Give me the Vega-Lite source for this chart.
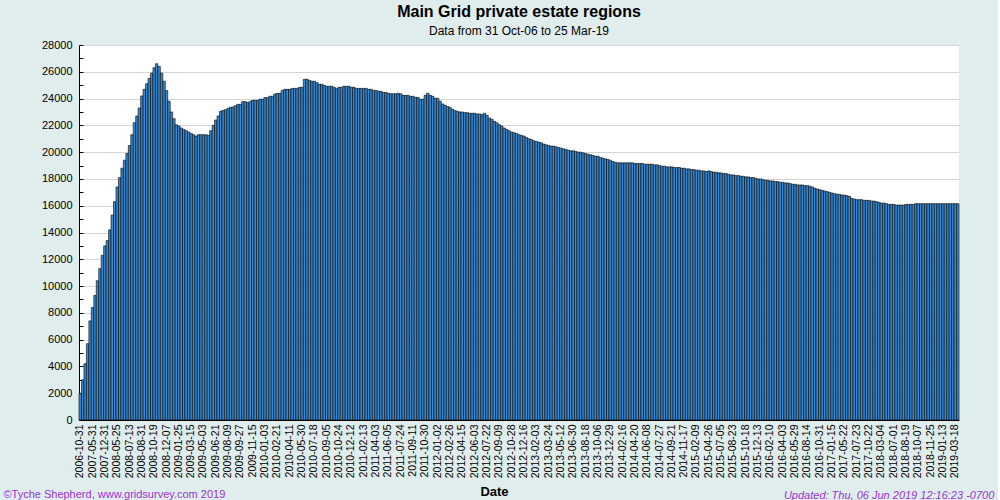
{
"$schema": "https://vega.github.io/schema/vega-lite/v6.json",
"background": "#e0eded",
"padding": {"top": 4, "left": 3, "right": 3, "bottom": 0},
"config": {"font": "Liberation Sans", "view": {"fill": "#ffffff", "stroke": null}},
"title": {"text": "Updated: Thu, 06 Jun 2019 12:16:23 -0700", "orient": "bottom", "anchor": "end", "fontStyle": "italic", "fontWeight": "normal", "fontSize": 11, "font": "Liberation Sans", "color": "#9933cc", "offset": -10, "dx": 34},
"datasets": {"grid": [
{"d":"2006-10-31","v":2000},{"d":"2006-11-30","v":3000},{"d":"2006-12-31","v":4200},{"d":"2007-01-31","v":5700},{"d":"2007-03-31","v":7400},
{"d":"2007-05-31","v":8400},{"d":"2007-06-30","v":9300},{"d":"2007-07-31","v":10400},{"d":"2007-09-30","v":11300},{"d":"2007-10-31","v":12300},
{"d":"2007-12-31","v":13000},{"d":"2008-01-31","v":13400},{"d":"2008-02-29","v":14200},{"d":"2008-03-31","v":15300},{"d":"2008-04-30","v":16300},
{"d":"2008-05-25","v":17400},{"d":"2008-06-01","v":18100},{"d":"2008-06-08","v":18800},{"d":"2008-06-15","v":19400},{"d":"2008-06-22","v":19900},
{"d":"2008-07-13","v":20500},{"d":"2008-07-20","v":21300},{"d":"2008-07-27","v":22200},{"d":"2008-08-03","v":22700},{"d":"2008-08-10","v":23300},
{"d":"2008-08-31","v":24200},{"d":"2008-09-07","v":24690},{"d":"2008-09-14","v":25100},{"d":"2008-09-21","v":25500},{"d":"2008-09-28","v":25900},
{"d":"2008-10-19","v":26300},{"d":"2008-10-26","v":26600},{"d":"2008-11-02","v":26400},{"d":"2008-11-09","v":25900},{"d":"2008-11-16","v":25300},
{"d":"2008-12-07","v":24600},{"d":"2008-12-14","v":23800},{"d":"2008-12-21","v":23000},{"d":"2008-12-28","v":22500},{"d":"2009-01-04","v":22050},
{"d":"2009-01-25","v":21950},{"d":"2009-02-01","v":21800},{"d":"2009-02-08","v":21700},{"d":"2009-02-15","v":21600},{"d":"2009-02-22","v":21500},
{"d":"2009-03-15","v":21400},{"d":"2009-03-22","v":21300},{"d":"2009-03-29","v":21200},{"d":"2009-04-05","v":21300},{"d":"2009-04-12","v":21300},
{"d":"2009-05-03","v":21300},{"d":"2009-05-10","v":21300},{"d":"2009-05-17","v":21250},{"d":"2009-05-24","v":21600},{"d":"2009-05-31","v":22000},
{"d":"2009-06-21","v":22400},{"d":"2009-06-28","v":22700},{"d":"2009-07-05","v":23050},{"d":"2009-07-12","v":23120},{"d":"2009-07-19","v":23170},
{"d":"2009-08-09","v":23270},{"d":"2009-08-16","v":23350},{"d":"2009-08-23","v":23370},{"d":"2009-08-30","v":23470},{"d":"2009-09-06","v":23570},
{"d":"2009-09-27","v":23570},{"d":"2009-10-04","v":23770},{"d":"2009-10-11","v":23770},{"d":"2009-10-18","v":23700},{"d":"2009-10-25","v":23790},
{"d":"2009-11-15","v":23870},{"d":"2009-11-22","v":23870},{"d":"2009-11-29","v":23870},{"d":"2009-12-06","v":23950},{"d":"2009-12-13","v":23950},
{"d":"2010-01-03","v":24070},{"d":"2010-01-10","v":24070},{"d":"2010-01-17","v":24170},{"d":"2010-01-24","v":24170},{"d":"2010-01-31","v":24340},
{"d":"2010-02-21","v":24390},{"d":"2010-02-28","v":24390},{"d":"2010-03-07","v":24610},{"d":"2010-03-14","v":24690},{"d":"2010-03-21","v":24690},
{"d":"2010-04-11","v":24690},{"d":"2010-04-18","v":24760},{"d":"2010-04-25","v":24760},{"d":"2010-05-02","v":24760},{"d":"2010-05-09","v":24840},
{"d":"2010-05-30","v":24840},{"d":"2010-06-06","v":25440},{"d":"2010-06-13","v":25440},{"d":"2010-06-20","v":25360},{"d":"2010-06-27","v":25290},
{"d":"2010-07-18","v":25290},{"d":"2010-07-25","v":25190},{"d":"2010-08-01","v":25070},{"d":"2010-08-08","v":25070},{"d":"2010-08-15","v":24990},
{"d":"2010-09-05","v":24920},{"d":"2010-09-12","v":24920},{"d":"2010-09-19","v":24920},{"d":"2010-09-26","v":24840},{"d":"2010-10-03","v":24760},
{"d":"2010-10-24","v":24840},{"d":"2010-10-31","v":24840},{"d":"2010-11-07","v":24920},{"d":"2010-11-14","v":24920},{"d":"2010-11-21","v":24920},
{"d":"2010-12-12","v":24840},{"d":"2010-12-19","v":24840},{"d":"2010-12-26","v":24760},{"d":"2011-01-02","v":24760},{"d":"2011-01-09","v":24760},
{"d":"2011-02-13","v":24760},{"d":"2011-02-20","v":24760},{"d":"2011-02-27","v":24690},{"d":"2011-03-06","v":24690},{"d":"2011-03-13","v":24610},
{"d":"2011-04-03","v":24610},{"d":"2011-04-10","v":24540},{"d":"2011-04-17","v":24540},{"d":"2011-04-24","v":24460},{"d":"2011-05-01","v":24460},
{"d":"2011-06-05","v":24390},{"d":"2011-06-12","v":24360},{"d":"2011-06-19","v":24360},{"d":"2011-06-26","v":24360},{"d":"2011-07-03","v":24390},
{"d":"2011-07-24","v":24360},{"d":"2011-07-31","v":24240},{"d":"2011-08-07","v":24240},{"d":"2011-08-14","v":24240},{"d":"2011-08-21","v":24170},
{"d":"2011-09-11","v":24170},{"d":"2011-09-18","v":24090},{"d":"2011-09-25","v":24090},{"d":"2011-10-02","v":23950},{"d":"2011-10-09","v":23950},
{"d":"2011-10-30","v":24240},{"d":"2011-11-06","v":24390},{"d":"2011-11-13","v":24240},{"d":"2011-11-20","v":24170},{"d":"2011-11-27","v":24020},
{"d":"2012-01-02","v":24020},{"d":"2012-01-09","v":23800},{"d":"2012-01-16","v":23600},{"d":"2012-01-23","v":23500},{"d":"2012-01-30","v":23400},
{"d":"2012-02-26","v":23350},{"d":"2012-03-04","v":23200},{"d":"2012-03-11","v":23100},{"d":"2012-03-18","v":23050},{"d":"2012-03-25","v":23000},
{"d":"2012-04-15","v":23000},{"d":"2012-04-22","v":22950},{"d":"2012-04-29","v":22950},{"d":"2012-05-06","v":22900},{"d":"2012-05-13","v":22900},
{"d":"2012-06-03","v":22900},{"d":"2012-06-10","v":22850},{"d":"2012-06-17","v":22850},{"d":"2012-06-24","v":22800},{"d":"2012-07-01","v":22900},
{"d":"2012-07-22","v":22750},{"d":"2012-07-29","v":22550},{"d":"2012-08-05","v":22450},{"d":"2012-08-12","v":22300},{"d":"2012-08-19","v":22200},
{"d":"2012-09-09","v":22050},{"d":"2012-09-16","v":21950},{"d":"2012-09-23","v":21800},{"d":"2012-09-30","v":21700},{"d":"2012-10-07","v":21600},
{"d":"2012-10-28","v":21500},{"d":"2012-11-04","v":21450},{"d":"2012-11-11","v":21400},{"d":"2012-11-18","v":21300},{"d":"2012-11-25","v":21250},
{"d":"2012-12-16","v":21200},{"d":"2012-12-23","v":21100},{"d":"2012-12-30","v":21000},{"d":"2013-01-06","v":20950},{"d":"2013-01-13","v":20850},
{"d":"2013-02-03","v":20800},{"d":"2013-02-10","v":20750},{"d":"2013-02-17","v":20700},{"d":"2013-02-24","v":20600},{"d":"2013-03-03","v":20550},
{"d":"2013-03-24","v":20500},{"d":"2013-03-31","v":20450},{"d":"2013-04-07","v":20450},{"d":"2013-04-14","v":20400},{"d":"2013-04-21","v":20350},
{"d":"2013-05-12","v":20300},{"d":"2013-05-19","v":20250},{"d":"2013-05-26","v":20200},{"d":"2013-06-02","v":20150},{"d":"2013-06-09","v":20100},
{"d":"2013-06-30","v":20100},{"d":"2013-07-07","v":20050},{"d":"2013-07-14","v":20000},{"d":"2013-07-21","v":20000},{"d":"2013-07-28","v":19950},
{"d":"2013-08-18","v":19900},{"d":"2013-08-25","v":19850},{"d":"2013-09-01","v":19800},{"d":"2013-09-08","v":19750},{"d":"2013-09-15","v":19700},
{"d":"2013-10-06","v":19700},{"d":"2013-10-13","v":19600},{"d":"2013-10-20","v":19550},{"d":"2013-10-27","v":19500},{"d":"2013-11-03","v":19450},
{"d":"2013-12-29","v":19400},{"d":"2014-01-05","v":19300},{"d":"2014-01-12","v":19250},{"d":"2014-01-19","v":19200},{"d":"2014-01-26","v":19200},
{"d":"2014-02-16","v":19200},{"d":"2014-02-23","v":19200},{"d":"2014-03-02","v":19200},{"d":"2014-03-09","v":19200},{"d":"2014-03-16","v":19200},
{"d":"2014-04-20","v":19150},{"d":"2014-04-27","v":19150},{"d":"2014-05-04","v":19150},{"d":"2014-05-11","v":19150},{"d":"2014-05-18","v":19100},
{"d":"2014-06-08","v":19100},{"d":"2014-06-15","v":19100},{"d":"2014-06-22","v":19100},{"d":"2014-06-29","v":19050},{"d":"2014-07-06","v":19050},
{"d":"2014-07-27","v":19000},{"d":"2014-08-03","v":18950},{"d":"2014-08-10","v":18950},{"d":"2014-08-17","v":18900},{"d":"2014-08-24","v":18900},
{"d":"2014-09-21","v":18900},{"d":"2014-09-28","v":18850},{"d":"2014-10-05","v":18850},{"d":"2014-10-12","v":18850},{"d":"2014-10-19","v":18800},
{"d":"2014-11-17","v":18800},{"d":"2014-11-24","v":18750},{"d":"2014-12-01","v":18750},{"d":"2014-12-08","v":18700},{"d":"2014-12-15","v":18700},
{"d":"2015-02-09","v":18650},{"d":"2015-02-16","v":18650},{"d":"2015-02-23","v":18600},{"d":"2015-03-02","v":18600},{"d":"2015-03-09","v":18550},
{"d":"2015-04-26","v":18600},{"d":"2015-05-03","v":18550},{"d":"2015-05-10","v":18500},{"d":"2015-05-17","v":18500},{"d":"2015-05-24","v":18450},
{"d":"2015-07-05","v":18450},{"d":"2015-07-12","v":18400},{"d":"2015-07-19","v":18400},{"d":"2015-07-26","v":18350},{"d":"2015-08-02","v":18300},
{"d":"2015-08-23","v":18300},{"d":"2015-08-30","v":18250},{"d":"2015-09-06","v":18250},{"d":"2015-09-13","v":18200},{"d":"2015-09-20","v":18200},
{"d":"2015-10-18","v":18150},{"d":"2015-10-25","v":18150},{"d":"2015-11-01","v":18100},{"d":"2015-11-08","v":18100},{"d":"2015-11-15","v":18050},
{"d":"2015-12-13","v":18000},{"d":"2015-12-20","v":18000},{"d":"2015-12-27","v":17950},{"d":"2016-01-03","v":17900},{"d":"2016-01-10","v":17900},
{"d":"2016-02-10","v":17850},{"d":"2016-02-17","v":17850},{"d":"2016-02-24","v":17800},{"d":"2016-03-02","v":17800},{"d":"2016-03-09","v":17750},
{"d":"2016-04-03","v":17750},{"d":"2016-04-10","v":17700},{"d":"2016-04-17","v":17700},{"d":"2016-04-24","v":17650},{"d":"2016-05-01","v":17600},
{"d":"2016-05-29","v":17600},{"d":"2016-06-05","v":17550},{"d":"2016-06-12","v":17550},{"d":"2016-06-19","v":17550},{"d":"2016-06-26","v":17500},
{"d":"2016-08-14","v":17500},{"d":"2016-08-21","v":17450},{"d":"2016-08-28","v":17400},{"d":"2016-09-04","v":17300},{"d":"2016-09-11","v":17250},
{"d":"2016-10-31","v":17200},{"d":"2016-11-07","v":17150},{"d":"2016-11-14","v":17100},{"d":"2016-11-21","v":17050},{"d":"2016-11-28","v":17000},
{"d":"2017-01-15","v":16950},{"d":"2017-01-22","v":16900},{"d":"2017-01-29","v":16850},{"d":"2017-02-05","v":16850},{"d":"2017-02-12","v":16800},
{"d":"2017-05-22","v":16800},{"d":"2017-05-29","v":16750},{"d":"2017-06-05","v":16700},{"d":"2017-06-12","v":16550},{"d":"2017-06-19","v":16500},
{"d":"2017-07-23","v":16450},{"d":"2017-07-30","v":16450},{"d":"2017-08-06","v":16450},{"d":"2017-08-13","v":16400},{"d":"2017-08-20","v":16400},
{"d":"2017-10-22","v":16400},{"d":"2017-10-29","v":16350},{"d":"2017-11-05","v":16350},{"d":"2017-11-12","v":16300},{"d":"2017-11-19","v":16250},
{"d":"2018-03-04","v":16200},{"d":"2018-03-11","v":16200},{"d":"2018-03-18","v":16150},{"d":"2018-03-25","v":16100},{"d":"2018-04-01","v":16100},
{"d":"2018-07-01","v":16100},{"d":"2018-07-08","v":16050},{"d":"2018-07-15","v":16050},{"d":"2018-07-22","v":16050},{"d":"2018-07-29","v":16050},
{"d":"2018-08-19","v":16100},{"d":"2018-08-26","v":16100},{"d":"2018-09-02","v":16100},{"d":"2018-09-09","v":16100},{"d":"2018-09-16","v":16150},
{"d":"2018-10-07","v":16150},{"d":"2018-10-14","v":16150},{"d":"2018-10-21","v":16150},{"d":"2018-10-28","v":16150},{"d":"2018-11-04","v":16150},
{"d":"2018-11-25","v":16150},{"d":"2018-12-02","v":16150},{"d":"2018-12-09","v":16150},{"d":"2018-12-16","v":16150},{"d":"2018-12-23","v":16150},
{"d":"2019-01-13","v":16150},{"d":"2019-01-20","v":16150},{"d":"2019-01-27","v":16150},{"d":"2019-02-03","v":16150},{"d":"2019-02-10","v":16150},
{"d":"2019-03-18","v":16150},{"d":"2019-03-25","v":16150}
]},
"vconcat": [{
  "title": {"text": "©Tyche Shepherd, www.gridsurvey.com 2019", "orient": "bottom", "anchor": "start", "fontStyle": "normal", "fontWeight": "normal", "fontSize": 11, "font": "Liberation Sans", "color": "#9933cc", "offset": -10, "dx": -38},
  "vconcat": [{
    "title": {"text": "Main Grid private estate regions", "subtitle": "Data from 31 Oct-06 to 25 Mar-19", "anchor": "middle", "fontSize": 16, "fontWeight": "bold", "font": "Liberation Sans", "color": "#000000", "subtitleFont": "Liberation Sans", "subtitleFontSize": 12, "subtitleColor": "#000000", "subtitlePadding": 6, "offset": 2},
    "width": 880,
    "height": 375,
    "data": {"name": "grid"},
    "mark": {"type": "bar", "fill": "#3a8ad2", "stroke": "#000000", "strokeWidth": 0.6},
    "encoding": {
      "x": {"field": "d", "type": "ordinal", "sort": null, "title": "Date",
        "scale": {"paddingInner": 0, "paddingOuter": 0},
        "axis": {"values": ["2006-10-31","2007-05-31","2007-12-31","2008-05-25","2008-07-13","2008-08-31","2008-10-19","2008-12-07","2009-01-25","2009-03-15","2009-05-03","2009-06-21","2009-08-09","2009-09-27","2009-11-15","2010-01-03","2010-02-21","2010-04-11","2010-05-30","2010-07-18","2010-09-05","2010-10-24","2010-12-12","2011-02-13","2011-04-03","2011-06-05","2011-07-24","2011-09-11","2011-10-30","2012-01-02","2012-02-26","2012-04-15","2012-06-03","2012-07-22","2012-09-09","2012-10-28","2012-12-16","2013-02-03","2013-03-24","2013-05-12","2013-06-30","2013-08-18","2013-10-06","2013-12-29","2014-02-16","2014-04-20","2014-06-08","2014-07-27","2014-09-21","2014-11-17","2015-02-09","2015-04-26","2015-07-05","2015-08-23","2015-10-18","2015-12-13","2016-02-10","2016-04-03","2016-05-29","2016-08-14","2016-10-31","2017-01-15","2017-05-22","2017-07-23","2017-10-22","2018-03-04","2018-07-01","2018-08-19","2018-10-07","2018-11-25","2019-01-13","2019-03-18"],
          "labelAngle": 270, "labelFontSize": 10.5, "labelColor": "#000000", "labelPadding": 4, "ticks": false,
          "domainColor": "#000000", "grid": false,
          "titleFontSize": 13, "titleFontWeight": "bold", "titleColor": "#000000", "titlePadding": 8, "titleX": 415}},
      "y": {"field": "v", "type": "quantitative", "title": null,
        "scale": {"domain": [0, 28000], "nice": false},
        "axis": {"values": [0,1000,2000,3000,4000,5000,6000,7000,8000,9000,10000,11000,12000,13000,14000,15000,16000,17000,18000,19000,20000,21000,22000,23000,24000,25000,26000,27000,28000],
          "format": "d", "labelExpr": "datum.value % 2000 === 0 ? datum.label : ''",
          "labelFontSize": 11, "labelColor": "#000000", "labelPadding": 11,
          "tickSize": -4, "tickColor": "#000000", "domainColor": "#000000",
          "grid": true, "gridColor": "#d4d4d4",
          "gridOpacity": {"condition": {"test": "datum.value % 2000 === 0 && datum.value > 0", "value": 1}, "value": 0}}}
    }
  }]
}]
}
